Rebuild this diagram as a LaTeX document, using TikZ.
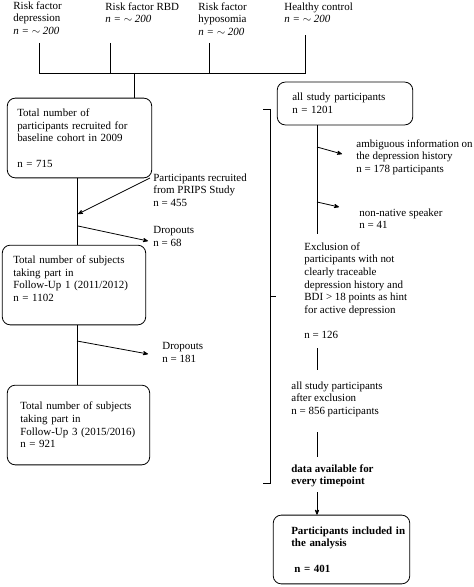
\documentclass[tikz,border=0pt]{standalone}
\usepackage{fontspec}
\setmainfont{Liberation Serif}
\usetikzlibrary{arrows}

\begin{document}
\begin{tikzpicture}[x=1bp,y=-1bp,>=stealth',line width=0.8bp,
  every node/.style={font=\fontsize{11}{12.7}\selectfont,inner sep=0pt}]

  \tikzstyle{box}=[rectangle,draw,rounded corners=8bp,align=left,inner xsep=0pt]
  \tikzstyle{label}=[anchor=north west,align=left]
  \tikzset{pad/.style={execute at begin node={\leftskip=#1bp}}}

  \useasboundingbox (0,0) rectangle (474,587);

  % groups
  \node [label] (dep) at (13,1)  {Risk factor\\depression\\\textit{n = $\sim$ 200}};
  \node [label] (rbd) at (105,2) {Risk factor RBD\\\textit{n = $\sim$ 200}};
  \node [label] (hyp) at (198,2) {Risk factor\\hyposomia\\\textit{n = $\sim$ 200}};
  \node [label] (hc)  at (284,2) {Healthy control\\\textit{n = $\sim$ 200}};

  \coordinate (t1) at (39,43);
  \coordinate (t2) at (110,43);
  \coordinate (t3) at (209,43);
  \coordinate (t4) at (305,35);
  \coordinate (j)  at (134,73);

  % left column
  \node [box,pad=10,text width=145,minimum height=80] (b1) at (79.5,138)
    {Total number of\\participants recruited for\\baseline cohort in 2009\\[12.7bp]n = 715};
  \node [box,pad=11,text width=144,minimum height=80] (b2) at (74,285)
    {Total number of subjects\\taking part in\\Follow-Up 1 (2011/2012)\\n = 1102\\\mbox{}};
  \node [box,pad=13,text width=143,minimum height=80] (b3) at (78.5,425)
    {Total number of subjects\\taking part in\\Follow-Up 3 (2015/2016)\\n = 921};

  \node [label] (pr) at (153,173) {Participants recruited\\from PRIPS Study\\n = 455};
  \node [label] (d1) at (153,226) {Dropouts\\n = 68};
  \node [label] (d2) at (162,342) {Dropouts\\n = 181};

  \coordinate (sl) at (77,0);
  \coordinate (m1) at (78,214);
  \coordinate (m2) at (78,226);
  \coordinate (m3) at (77,341);

  % right column
  \node [box,pad=15,text width=136,minimum height=43] (b4) at (345,103.5)
    {all study participants\\n = 1201};
  \node [box,pad=18,text width=137,minimum height=69] (b5) at (341.5,549.5)
    {\textbf{Participants included in}\\\textbf{the analysis}\\[12.7bp]\hspace*{3bp}\textbf{n = 401}};

  \node [label] (am) at (356,139) {ambiguous information on\\the depression history\\n = 178 participants};
  \node [label] (nn) at (359,208) {non-native speaker\\n = 41};
  \node [label] (ex) at (304,242)
    {Exclusion of\\participants with not\\clearly traceable\\depression history and\\BDI > 18 points as hint\\for active depression\\[12.7bp]n = 126};
  \node [label] (ae) at (291,381) {all study participants\\after exclusion\\n = 856 participants};
  \node [label] (da) at (291,464) {\textbf{data available for}\\\textbf{every timepoint}};

  \coordinate (sr) at (317,0);
  \coordinate (m4) at (317,147);
  \coordinate (m5) at (317,202);
  \coordinate (r1) at (317,234);
  \coordinate (r2) at (317,348);
  \coordinate (r3) at (317,370);
  \coordinate (r4) at (317,432);
  \coordinate (r5) at (317,457);
  \coordinate (r6) at (317,492);

  % connectors
  \draw (t1) |- (t4 |- j) -- (t4);
  \draw (t2) -- (t2 |- j);
  \draw (t3) -- (t3 |- j);
  \draw (j) -- (j |- b1.north);

  \draw (b1.south -| sl) -- (b2.north -| sl);
  \draw (b2.south -| sl) -- (b3.north -| sl);
  \draw [->] ([shift={(-3,5)}]pr.north west) -- (m1);
  \draw [->] (m2) -- ([shift={(-5,15)}]d1.north west);
  \draw [->] (m3) -- ([shift={(-14,12)}]d2.north west);

  \draw (b4.south -| sr) -- (r1);
  \draw [->] (m4) -- ([shift={(-14,15)}]am.north west);
  \draw [->] (m5) -- ([shift={(-20,-1)}]nn.north west);
  \draw (r2) -- (r3);
  \draw (r4) -- (r5);
  \draw [->] (r6) -- (b5.north -| sr);

  % bracket
  \draw (263,109) -| (270,483) -- (263,483);
  \draw (270,296) -- (276,296);
\end{tikzpicture}
\end{document}
